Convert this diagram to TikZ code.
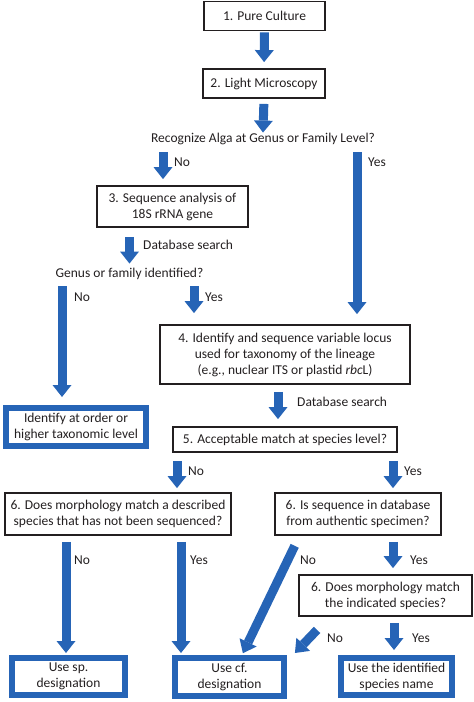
\documentclass[tikz,border=0pt]{standalone}
\usepackage{fontspec}
\setmainfont{Carlito}
\usetikzlibrary{arrows.meta}
\definecolor{flowblue}{RGB}{38,100,182}
\definecolor{ink}{RGB}{35,31,32}
\begin{document}
\begin{tikzpicture}
    [
    x=1pt, y=-1pt,
    every node/.style={font=\fontsize{13.5}{16}\selectfont, text=ink},
    box/.style={draw=ink,line width=1.8pt,rectangle,align=center,inner sep=1pt},
    endbox/.style={draw=flowblue,line width=6pt,rectangle,align=center,inner sep=1pt},
    question/.style={inner sep=0pt,text height=9.5pt,text depth=3pt},
    answer/.style={inner sep=0pt,anchor=west,text height=8.5pt,text depth=0pt},
    flow/.style={draw=flowblue,line width=9pt,-{Triangle[width=19pt,length=12pt,line width=0pt]}}
    ]
    \useasboundingbox (0,0) rectangle (474,702);
    \node (b1) at (264.5,16) [box,minimum width=121pt,minimum height=29pt] {1. Pure Culture};
    \node (b2) at (264,83.5) [box,minimum width=122pt,minimum height=29pt] {2. Light Microscopy};
    \node (q1) at (263,139) [question] {Recognize Alga at Genus or Family Level?};
    \node (b3) at (172.5,206.5) [box,minimum width=151pt,minimum height=41pt] {3. Sequence analysis of\\18S rRNA gene};
    \node (q2) at (129.5,274) [question] {Genus or family identified?};
    \node (b4) at (285,354.5) [box,minimum width=250pt,minimum height=59pt] {4. Identify and sequence variable locus\\used for taxonomy of the lineage\\(e.g., nuclear ITS or plastid \textit{rbc}L)};
    \node (bo) at (76,427) [endbox,minimum width=140pt,minimum height=38pt] {Identify at order or\\higher taxonomic level};
    \node (b5) at (285,439.5) [box,minimum width=224pt,minimum height=25pt] {5. Acceptable match at species level?};
    \node (b6a) at (118,514) [box,minimum width=226pt,minimum height=42pt] {6. Does morphology match a described\\species that has not been sequenced?};
    \node (b6b) at (358,514) [box,minimum width=166pt,minimum height=42pt] {6. Is sequence in database\\from authentic specimen?};
    \node (b6c) at (385.5,595.5) [box,minimum width=173pt,minimum height=41pt] {6. Does morphology match\\the indicated species?};
    \node (bsp) at (68.5,676.5) [endbox,minimum width=113pt,minimum height=37pt] {Use sp.\\designation};
    \node (bcf) at (229.5,677) [endbox,minimum width=109pt,minimum height=38pt] {Use cf.\\designation};
    \node (bid) at (396.5,676.5) [endbox,minimum width=111pt,minimum height=37pt] {Use the identified\\species name};
    \node (no1) at (174,162) [answer] {No};
    \node (yes1) at (368,162) [answer] {Yes};
    \node (db1) at (143,245) [answer] {Database search};
    \node (no2) at (74,297) [answer] {No};
    \node (yes2) at (205,297) [answer] {Yes};
    \node (db2) at (297,402) [answer] {Database search};
    \node (no3) at (188,471) [answer] {No};
    \node (yes3) at (404,471) [answer] {Yes};
    \node (no4) at (74,560) [answer] {No};
    \node (yes4) at (190,560) [answer] {Yes};
    \node (no5) at (300,560) [answer] {No};
    \node (yes5) at (410,560) [answer] {Yes};
    \node (no6) at (327,638) [answer] {No};
    \node (yes6) at (412,638) [answer] {Yes};
    \draw [flow, shorten <=1pt, shorten >=6pt] (b1.south) to (b2.north);
    \draw [flow, shorten <=5pt, shorten >=0pt] (b2.south) to (q1.north);
    \draw [flow, shorten <=7pt, shorten >=6pt] ([xshift=-9.5pt]b3.north |- q1.south) to ([xshift=-9.5pt]b3.north);
    \draw [flow, shorten <=7pt, shorten >=10pt] ([xshift=72pt]b4.north |- q1.south) to ([xshift=72pt]b4.north);
    \draw [flow, shorten <=9pt, shorten >=4pt] (b3.south -| q2.north) to (q2.north);
    \draw [flow, shorten <=6pt, shorten >=8pt] ([xshift=-14pt]bo.north |- q2.south) to ([xshift=-14pt]bo.north);
    \draw [flow, shorten <=6pt, shorten >=11pt] ([xshift=-91pt]b4.north |- q2.south) to ([xshift=-91pt]b4.north);
    \draw [flow, shorten <=7pt, shorten >=7pt] ([xshift=-7pt]b4.south) to ([xshift=-7pt]b5.north);
    \draw [flow, shorten <=8pt, shorten >=4pt] ([xshift=59pt]b6a.north |- b5.south) to ([xshift=59pt]b6a.north);
    \draw [flow, shorten <=8pt, shorten >=4pt] ([xshift=35pt]b6b.north |- b5.south) to ([xshift=35pt]b6b.north);
    \draw [flow, shorten <=6pt, shorten >=2pt] ([xshift=-2.5pt]b6a.south -| bsp.north) to ([xshift=-2.5pt]bsp.north);
    \draw [flow, shorten <=6pt, shorten >=2pt] ([xshift=63pt]b6a.south) to ([xshift=63pt]b6a.south |- bcf.north);
    \draw [flow, shorten <=11pt, shorten >=2pt] ([xshift=-58.5pt]b6b.south) to ([xshift=12.5pt]bcf.north);
    \draw [flow, shorten <=6pt, shorten >=6pt] ([xshift=7.5pt]b6c.north |- b6b.south) to ([xshift=7.5pt]b6c.north);
    \draw [flow, shorten <=18pt, shorten >=2.8pt] ([xshift=-56pt]b6c.south) to ([xshift=6pt]bcf.north east);
    \draw [flow, shorten <=6pt, shorten >=5pt] ([xshift=8.5pt]b6c.south) to ([xshift=8.5pt]b6c.south |- bid.north);
  \end{tikzpicture}
\end{document}
